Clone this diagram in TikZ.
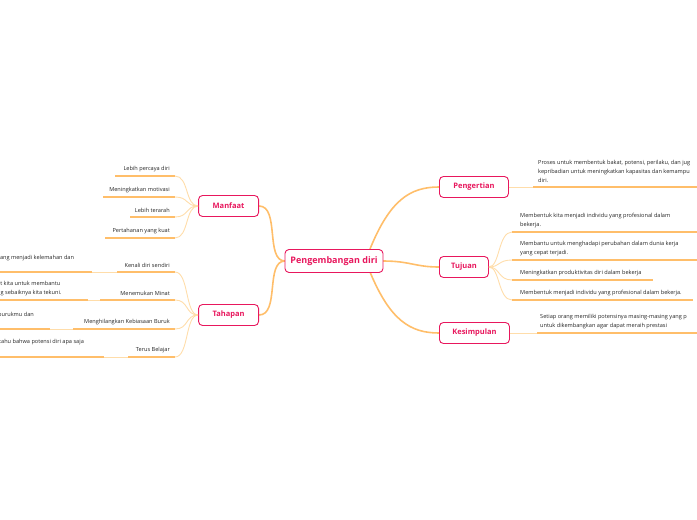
\documentclass[tikz,border=0pt]{standalone}
\usepackage{fontspec}
\setmainfont{Open Sans}
\begin{document}
\begin{tikzpicture}[x=1pt,y=-1pt,
  main/.style={draw=pink1,line width=0.9pt,rounded corners=4pt,fill=white,text=pink1,font=\fontsize{9}{10}\selectfont\bfseries,minimum width=98pt,minimum height=23pt},
  branch/.style={draw=pink1,line width=0.9pt,rounded corners=4pt,fill=white,text=pink1,font=\fontsize{7.5}{8}\selectfont\bfseries,minimum height=21pt,inner xsep=8pt},
  leaf/.style={font=\fontsize{5.6}{9}\selectfont,text=black!85,inner sep=0pt,align=left},
  big/.style={draw=orange1,line width=1.6pt},
  thin/.style={draw=orange2,line width=0.9pt},
  uline/.style={draw=orange1,line width=1.3pt}]
\definecolor{pink1}{HTML}{E8175D}
\definecolor{orange1}{HTML}{FFBE6A}
\definecolor{orange2}{HTML}{FFDDAA}
\useasboundingbox (0,0) rectangle (697,520);
\clip (0,0) rectangle (697,520);
% big connectors
\coordinate (cl) at (285,261); \coordinate (cr) at (383,261);
\draw[big] (cl) .. controls (265,261) and (280,206) .. (259,206);
\draw[big] (cl) .. controls (265,261) and (280,315) .. (259,315);
\draw[big] (370,249) .. controls (390,200) and (410,187) .. (439,187);
\draw[big] (cr) .. controls (410,261) and (415,267) .. (439,267);
\draw[big] (370,272) .. controls (390,320) and (410,333) .. (439,333);
\node[main] (c) at (334,261) {Pengembangan diri};
\node[branch,anchor=east,minimum width=60pt] (m) at (259,206) {Manfaat};
\node[branch,anchor=east,minimum width=60pt] (t) at (259,315) {Tahapan};
\node[branch,anchor=west,minimum width=69pt] (p) at (439,187) {Pengertian};
\node[branch,anchor=west,minimum width=49pt] (tj) at (439,267) {Tujuan};
\node[branch,anchor=west,minimum width=70pt] (k) at (439,333) {Kesimpulan};
% Manfaat leaves
\foreach \y/\x/\txt in {176/115/Lebih percaya diri,197/103/Meningkatkan motivasi,217/130/Lebih terarah,238/105/Pertahanan yang kuat}{
  \draw[thin] (m.west) .. controls (185,206) and (189,\y) .. (175,\y);
  \draw[uline] (\x,\y) -- (175,\y);
  \node[leaf,anchor=south east] at (170,\y-4) {\txt};
}
% Tahapan leaves
\foreach \y/\x/\txt in {272/117/Kenali diri sendiri,300/100/Menemukan Minat,329/73/Menghilangkan Kebiasaan Buruk,357/128/Terus Belajar}{
  \draw[thin] (t.west) .. controls (185,315) and (189,\y) .. (175,\y);
  \draw[uline] (\x,\y) -- (175,\y);
  \node[leaf,anchor=south east] at (170,\y-4) {\txt};
}
\draw[thin] (92,272) -- (117,272); \draw[uline] (0,272) -- (92,272);
\draw[thin] (88,300) -- (100,300); \draw[uline] (0,300) -- (88,300);
\draw[thin] (50,329) -- (73,329); \draw[uline] (0,329) -- (50,329);
\draw[thin] (104,357) -- (128,357); \draw[uline] (0,357) -- (104,357);
\node[leaf,anchor=south west] at (-3,261) {yang menjadi kelemahan dan};
\node[leaf,anchor=south west] at (-3,296) {at kita untuk membantu\\ng sebaiknya kita tekuni.};
\node[leaf,anchor=south west] at (-2,317) {burukmu dan};
\node[leaf,anchor=south west] at (-1,345) {tahu bahwa potensi diri apa saja};
% Pengertian
\draw[thin] (p.east) -- (540,187);
\draw[uline] (533,187) -- (697,187);
\node[leaf,anchor=south west] at (538,183) {Proses untuk membentuk bakat, potensi, perilaku, dan jug\\kepribadian untuk meningkatkan kapasitas dan kemampu\\diri.};
% Tujuan
\foreach \y/\xe in {232/697,260/697,280/653,300/693}{
  \draw[thin] (tj.east) .. controls (500,267) and (498,\y) .. (512,\y);
  \draw[uline] (512,\y) -- (\xe,\y);
}
\node[leaf,anchor=south west] at (520,228) {Membentuk kita menjadi individu yang profesional dalam\\bekerja.};
\node[leaf,anchor=south west] at (520,256) {Membantu untuk menghadapi perubahan dalam dunia kerja\\yang cepat terjadi.};
\node[leaf,anchor=south west] at (520,276) {Meningkatkan produktivitas diri dalam bekerja};
\node[leaf,anchor=south west] at (520,296) {Membentuk menjadi individu yang profesional dalam bekerja.};
% Kesimpulan
\draw[thin] (k.east) -- (537,333);
\draw[uline] (537,333) -- (697,333);
\node[leaf,anchor=south west] at (540,329) {Setiap orang memiliki potensinya masing-masing yang p\\untuk dikembangkan agar dapat meraih prestasi};
\end{tikzpicture}
\end{document}
